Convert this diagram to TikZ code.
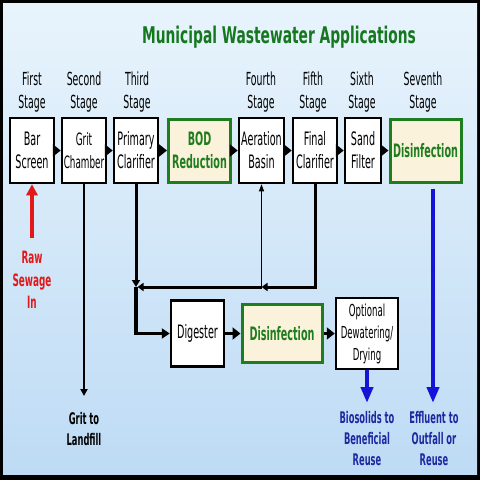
\documentclass[tikz,border=0pt]{standalone}
\usepackage{fontspec}
\usetikzlibrary{arrows.meta}
\newfontfamily\narrowsans{DejaVu Sans}[FakeStretch=0.52]
\newfontfamily\titlesans{DejaVu Sans}[FakeStretch=0.6]
\definecolor{titlegreen}{RGB}{22,120,30}
\definecolor{boxgreen}{RGB}{30,125,30}
\definecolor{cream}{RGB}{250,242,218}
\definecolor{sewred}{RGB}{225,25,25}
\definecolor{outblue}{RGB}{20,20,215}
\definecolor{textblue}{RGB}{30,40,160}
\definecolor{bgtop}{RGB}{232,244,252}
\definecolor{bgbottom}{RGB}{190,219,245}
\tikzstyle{stage}=[align=center, font=\narrowsans\fontsize{18}{23}\selectfont]
\tikzstyle{unit}=[draw=black, line width=2.5pt, fill=white, inner sep=0pt, minimum height=65pt, align=center, font=\narrowsans\fontsize{18.5}{23}\selectfont]
\tikzstyle{treat}=[draw=boxgreen, line width=3pt, fill=cream, inner sep=0pt, minimum height=63pt, align=center, text=boxgreen, font=\narrowsans\bfseries\fontsize{18.5}{23}\selectfont]
\tikzstyle{feed}=[line width=3pt, -{Triangle[length=8pt,width=12pt]}]
\tikzstyle{endnote}=[align=center, font=\narrowsans\bfseries\fontsize{16}{21}\selectfont]

\begin{document}
\begin{tikzpicture}[x=1pt, y=-1pt]
\useasboundingbox (0,0) rectangle (480,480);
\fill[black] (0,0) rectangle (480,480);
\shade[top color=bgtop, bottom color=bgbottom] (3,3) rectangle (477,474);
\node[font=\titlesans\bfseries\fontsize{23}{26}\selectfont, text=titlegreen] (title) at (279,37) {Municipal Wastewater Applications};
% stage headings
\node[stage] (s1) at (32,92) {First\\Stage};
\node[stage] (s2) at (84,92) {Second\\Stage};
\node[stage] (s3) at (137,92) {Third\\Stage};
\node[stage] (s4) at (261,92) {Fourth\\Stage};
\node[stage] (s5) at (313,92) {Fifth\\Stage};
\node[stage] (s6) at (362,92) {Sixth\\Stage};
\node[stage] (s7) at (423,92) {Seventh\\Stage};
% main train
\node[unit, minimum width=44pt] (bar) at (32,150.5) {Bar\\Screen};
\node[unit, minimum width=44pt, font=\narrowsans\fontsize{17}{23}\selectfont] (grit) at (84,150.5) {Grit\\Chamber};
\node[unit, minimum width=44pt] (prim) at (136,150.5) {Primary\\Clarifier};
\node[treat, minimum width=62pt] (bod) at (199.5,150.5) {BOD\\Reduction};
\node[unit, minimum width=45pt] (aer) at (261.5,150.5) {Aeration\\Basin};
\node[unit, minimum width=44pt] (fin) at (315,150.5) {Final\\Clarifier};
\node[unit, minimum width=36pt] (sand) at (363,150.5) {Sand\\Filter};
\node[treat, minimum width=71pt] (dis1) at (425.5,150.5) {Disinfection};
\foreach \a/\b in {bar/grit, grit/prim, prim/bod, bod/aer, aer/fin, fin/sand, sand/dis1}
  \draw[feed] (\a) -- (\b);
% solids train
\node[unit, minimum width=53pt, minimum height=66pt] (dig) at (197.5,333.5) {Digester};
\node[treat, minimum width=80pt, minimum height=58pt] (dis2) at (282,333.5) {Disinfection};
\node[unit, minimum width=62pt, minimum height=71pt, font=\narrowsans\fontsize{16.5}{22}\selectfont] (opt) at (367,333.5) {Optional\\Dewatering/\\Drying};
\draw[feed] (dig) -- (dis2);
\draw[feed] (dis2) -- (opt);
% raw sewage
\coordinate (rawtail) at (32,238);
\draw[line width=4pt, sewred, -{Triangle[length=11pt,width=11pt]}] (rawtail) -- (bar.south);
\node[endnote, text=sewred, font=\narrowsans\bfseries\fontsize{17}{22.5}\selectfont] (raw) at (32,280) {Raw\\Sewage\\In};
% grit
\coordinate (gritend) at (84,396);
\draw[line width=2pt, -{Triangle[length=7pt,width=7pt]}] (grit.south) -- (gritend);
\node[endnote] (landfill) at (84,429) {Grit to\\Landfill};
% sludge and return
\coordinate (join) at (136,287);
\coordinate (split) at (261.5,287);
\draw[line width=3pt, -{Triangle[length=7pt,width=8pt]}] (prim.south) -- (join);
\draw[line width=3.5pt, -{Triangle[length=8pt,width=10pt]}] (join) |- (dig.west);
\draw[line width=3pt, -{Triangle[length=6pt,width=8pt]}] (fin.south) |- (split);
\draw[line width=3pt, -{Triangle[length=6pt,width=8pt]}, shorten >=1.5pt] (split) -- (join);
\draw[line width=0.8pt, -{Triangle[length=7pt,width=5pt]}] (split) -- (aer.south);
% outlets
\coordinate (effluent) at (433,403);
\coordinate (biosolids) at (367,403);
\draw[line width=4pt, outblue, -{Triangle[length=16pt,width=12pt]}, shorten <=5pt] (dis1.south -| effluent) -- (effluent);
\draw[line width=4pt, outblue, -{Triangle[length=16pt,width=12pt]}] (opt.south) -- (biosolids);
\node[endnote, text=textblue] (reuse) at (367,439) {Biosolids to\\Beneficial\\Reuse};
\node[endnote, text=textblue] (outfall) at (434,439) {Effluent to\\Outfall or\\Reuse};
\end{tikzpicture}
\end{document}
